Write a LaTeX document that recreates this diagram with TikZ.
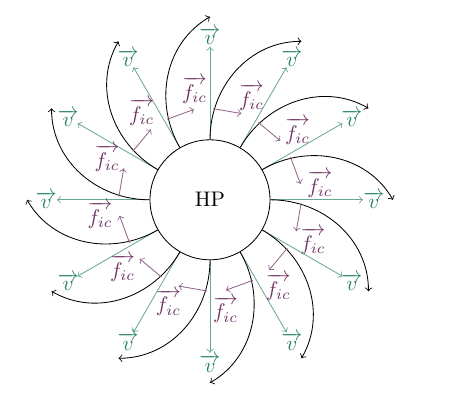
\documentclass[tikz,border=0pt]{standalone}
\usepackage{amsmath}
\usepackage{tikz}
\usetikzlibrary{arrows,calc,positioning}

\definecolor{vgreen}{RGB}{40,130,100}
\definecolor{fpurple}{RGB}{110,50,100}

\begin{document}
\begin{tikzpicture}[>=to]
	\useasboundingbox (-3.5,-3.4) rectangle (4.4,3.33);
	\node[circle, draw, minimum size=2cm] (hp) at (0,0) {HP};
	
	\foreach \a in {0,30,...,330} {
		\coordinate (t\a) at (\a:2.55);
		\coordinate (e\a) at (\a-30:3.05);
		\coordinate (fs\a) at (\a-2:1.52);
		\coordinate (fe\a) at (\a-20:1.53);
		
		\node[text=vgreen] (v\a) at (\a:2.73) {$\overrightarrow{v}$};
		\node[text=fpurple] (f\a) at (\a-22:1.85) {$\overrightarrow{f_{ic}}$};
		
		\draw[->, vgreen!70] (hp.\a) -- (t\a);
		\draw[->] (hp.\a) to[out=\a, in=\a+90] (e\a);
		\draw[->, fpurple!75] (fs\a) -- (fe\a);
	}
\end{tikzpicture}
\end{document}
